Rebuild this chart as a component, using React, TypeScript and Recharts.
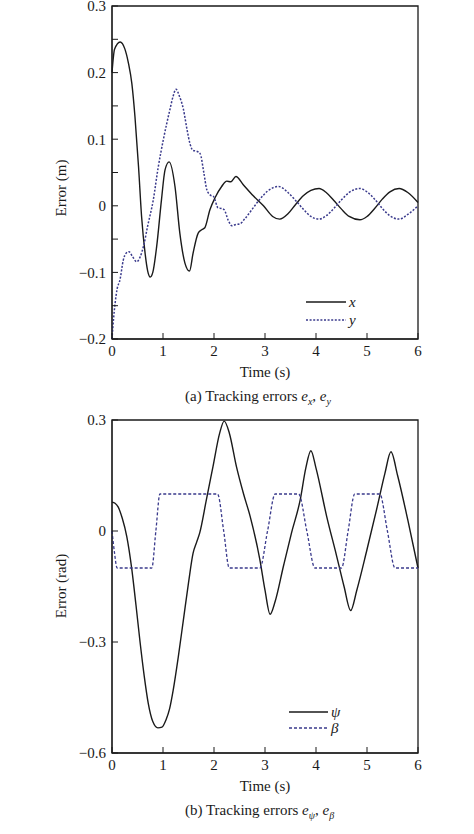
import React from 'react'
import { LineChart, Line, XAxis, YAxis, ReferenceArea, Legend } from 'recharts'

// (time s, error) pairs
const errX: [number, number][] = [
  [0, 0.2], [0.05, 0.235], [0.16, 0.246], [0.25, 0.236], [0.32, 0.215], [0.39, 0.183],
  [0.45, 0.134], [0.52, 0.059], [0.58, -0.016], [0.65, -0.072], [0.7, -0.098], [0.75, -0.107],
  [0.8, -0.1], [0.876, -0.061], [0.97, 0.009], [1.04, 0.054], [1.12, 0.066], [1.235, 0.029],
  [1.33, -0.041], [1.43, -0.086], [1.52, -0.098], [1.59, -0.071], [1.69, -0.041], [1.76, -0.036],
  [1.82, -0.033], [1.92, -0.006], [2.02, 0.012], [2.15, 0.029], [2.25, 0.037], [2.33, 0.036],
  [2.43, 0.044], [2.57, 0.032], [2.77, 0.015], [2.97, 0.0], [3.15, -0.016], [3.29, -0.02],
  [3.45, -0.012], [3.6, 0.002], [3.75, 0.015], [3.9, 0.023], [4.06, 0.026], [4.2, 0.02],
  [4.35, 0.008], [4.5, -0.005], [4.65, -0.016], [4.86, -0.021], [5.0, -0.016], [5.15, -0.004],
  [5.3, 0.01], [5.45, 0.021], [5.63, 0.026], [5.8, 0.02], [6.0, 0.005],
]

const errY: [number, number][] = [
  [0, -0.2], [0.03, -0.17], [0.06, -0.147], [0.1, -0.125], [0.157, -0.111], [0.22, -0.082],
  [0.28, -0.071], [0.333, -0.069], [0.4, -0.076], [0.484, -0.084], [0.55, -0.077], [0.62, -0.06],
  [0.7, -0.03], [0.81, 0.009], [0.9, 0.055], [1.006, 0.099], [1.137, 0.145], [1.2, 0.165],
  [1.255, 0.175], [1.32, 0.165], [1.4, 0.145], [1.47, 0.115], [1.53, 0.093], [1.59, 0.083],
  [1.66, 0.082], [1.73, 0.078], [1.8, 0.05], [1.86, 0.024], [1.93, 0.016], [1.99, 0.014],
  [2.08, -0.003], [2.15, -0.004], [2.2, -0.006], [2.28, -0.022], [2.35, -0.03], [2.43, -0.028],
  [2.51, -0.027], [2.6, -0.02], [2.75, -0.005], [2.9, 0.01], [3.05, 0.022], [3.27, 0.029],
  [3.45, 0.02], [3.6, 0.008], [3.75, -0.005], [3.9, -0.016], [4.06, -0.02], [4.2, -0.015],
  [4.35, -0.004], [4.5, 0.009], [4.65, 0.02], [4.86, 0.026], [5.0, 0.021], [5.15, 0.01],
  [5.3, -0.004], [5.45, -0.015], [5.63, -0.02], [5.8, -0.013], [6.0, 0.0],
]

const errPsi: [number, number][] = [
  [0, 0.078], [0.06, 0.075], [0.12, 0.065], [0.2, 0.035], [0.29, -0.015], [0.39, -0.105],
  [0.47, -0.2], [0.55, -0.3], [0.63, -0.39], [0.71, -0.465], [0.8, -0.515], [0.9, -0.532],
  [0.98, -0.53], [1.06, -0.51], [1.13, -0.48], [1.2, -0.43], [1.3, -0.34], [1.4, -0.24],
  [1.5, -0.14], [1.59, -0.06], [1.66, -0.03], [1.72, -0.005], [1.85, 0.084], [1.98, 0.174],
  [2.11, 0.264], [2.2, 0.297], [2.3, 0.265], [2.44, 0.174], [2.58, 0.1], [2.71, 0.039],
  [2.9, -0.078], [3.0, -0.16], [3.1, -0.225], [3.2, -0.19], [3.36, -0.096], [3.52, -0.005],
  [3.69, 0.084], [3.8, 0.17], [3.9, 0.217], [4.0, 0.17], [4.21, 0.039], [4.4, -0.065],
  [4.55, -0.15], [4.68, -0.215], [4.8, -0.16], [5.0, -0.05], [5.2, 0.065], [5.35, 0.155],
  [5.47, 0.214], [5.6, 0.15], [5.8, 0.03], [6.0, -0.1],
]

const errBeta: [number, number][] = [
  [0, 0], [0.05, -0.06], [0.1, -0.1], [0.78, -0.1], [0.86, 0], [0.94, 0.1],
  [2.07, 0.1], [2.19, 0], [2.3, -0.1], [2.9, -0.1], [3.05, 0], [3.2, 0.1],
  [3.66, 0.1], [3.82, 0], [3.98, -0.1], [4.5, -0.1], [4.63, 0], [4.76, 0.1],
  [5.25, 0.1], [5.4, 0], [5.55, -0.1], [6.0, -0.1],
]

const timeTicks = [0, 1, 2, 3, 4, 5, 6]
const ticksA = [-0.2, -0.15, -0.1, -0.05, 0, 0.05, 0.1, 0.15, 0.2, 0.25, 0.3]
const ticksB = [-0.6, -0.3, 0, 0.3]
const legendOrder = ['x', 'y', 'ψ', 'β']

const toRows = (pts: [number, number][]) => pts.map(([t, v]) => ({ t, v }))

const serif = '"Liberation Serif", "DejaVu Serif", serif'
const ink = '#1a1a1a'
const blue = '#3a3a8c'

const fmt = (v: number) => {
  if (Math.abs(v) < 1e-9) return '0'
  const s = Math.abs(v).toFixed(1)
  return v < 0 ? '\u2212' + s : s
}
const fmtA = (v: number) => (Math.round(Math.abs(v) * 100) % 10 === 0 ? fmt(v) : '')

const tickStyle = { fontFamily: serif, fontSize: 15, fill: ink }

const dashes: Record<string, string> = { x: '', y: '2 1.6', ψ: '', β: '3 2' }

function makeLegend(rowH: number, lineW: number) {
  return (props: any) => {
    const items = [...(props.payload || [])].sort(
      (a: any, b: any) => legendOrder.indexOf(a.value) - legendOrder.indexOf(b.value)
    )
    return (
      <div style={{ fontFamily: serif, fontSize: 15, fontStyle: 'italic', color: ink }}>
        {items.map((e: any) => (
          <div key={e.value} style={{ height: rowH, display: 'flex', alignItems: 'center' }}>
            <svg width={lineW} height={4} style={{ marginRight: 3 }}>
              <line x1={0} y1={2} x2={lineW} y2={2} stroke={e.color} strokeWidth={1.5}
                strokeDasharray={dashes[e.value] || undefined} />
            </svg>
            <span>{e.value}</span>
          </div>
        ))}
      </div>
    )
  }
}

function Frame({ domainY }: { domainY: [number, number] }) {
  return (
    <ReferenceArea x1={0} x2={6} y1={domainY[0]} y2={domainY[1]} fill="none" stroke={ink} strokeWidth={1.3} />
  )
}

export default function App() {
  const text: React.CSSProperties = { position: 'absolute', fontFamily: serif, fontSize: 15, color: ink, whiteSpace: 'nowrap', lineHeight: '15px' }
  const ylab: React.CSSProperties = { ...text, transform: 'translate(-50%, -50%) rotate(-90deg)' }
  return (
    <div style={{ position: 'absolute', left: 0, top: 0, width: 474, height: 834, background: '#fff' }}>
      <div style={{ position: 'absolute', left: 0, top: 0 }}>
        <LineChart width={474} height={400} margin={{ top: 6, right: 56, bottom: 31, left: 62 }}>
          <XAxis dataKey="t" type="number" domain={[0, 6]} ticks={timeTicks} interval={0}
            tick={tickStyle} tickSize={-6} tickMargin={12} stroke={ink} height={30} />
          <YAxis type="number" domain={[-0.2, 0.3]} ticks={ticksA} interval={0} tickFormatter={fmtA}
            tick={tickStyle} tickSize={-6} tickMargin={12} stroke={ink} width={50} />
          {Frame({ domainY: [-0.2, 0.3] })}
          <Line data={toRows(errX)} dataKey="v" name="x" type="monotone" stroke={ink} strokeWidth={1.4}
            dot={false} isAnimationActive={false} />
          <Line data={toRows(errY)} dataKey="v" name="y" type="monotone" stroke={blue} strokeWidth={1.5}
            strokeDasharray="2 1.6" dot={false} isAnimationActive={false} />
          <Legend layout="vertical" align="center" verticalAlign="middle" content={makeLegend(18, 40)}
            wrapperStyle={{ left: 306, top: 293, width: 'auto', height: 'auto' }} />
        </LineChart>
      </div>
      <div style={{ position: 'absolute', left: 0, top: 400 }}>
        <LineChart width={474} height={400} margin={{ top: 20, right: 56, bottom: 17, left: 62 }}>
          <XAxis dataKey="t" type="number" domain={[0, 6]} ticks={timeTicks} interval={0}
            tick={tickStyle} tickSize={-6} tickMargin={12} stroke={ink} height={30} />
          <YAxis type="number" domain={[-0.6, 0.3]} ticks={ticksB} interval={0} tickFormatter={fmt}
            tick={tickStyle} tickSize={-6} tickMargin={12} stroke={ink} width={50} />
          {Frame({ domainY: [-0.6, 0.3] })}
          <Line data={toRows(errPsi)} dataKey="v" name="ψ" type="monotone" stroke={ink} strokeWidth={1.4}
            dot={false} isAnimationActive={false} />
          <Line data={toRows(errBeta)} dataKey="v" name="β" type="monotone" stroke={blue} strokeWidth={1.3}
            strokeDasharray="3 2" dot={false} isAnimationActive={false} />
          <Legend layout="vertical" align="center" verticalAlign="middle" content={makeLegend(16, 39)}
            wrapperStyle={{ left: 289, top: 304, width: 'auto', height: 'auto' }} />
        </LineChart>
      </div>

      <div style={{ ...ylab, left: 61, top: 188 }}>Error (m)</div>
      <div style={{ ...ylab, left: 61, top: 586 }}>Error (rad)</div>

      <div style={{ ...text, left: 265, top: 365, transform: 'translateX(-50%)' }}>Time (s)</div>
      <div style={{ ...text, left: 185, top: 389 }}>
        (a) Tracking errors <i>e</i><sub style={{ fontSize: 10, fontStyle: 'italic' }}>x</sub>, <i>e</i>
        <sub style={{ fontSize: 10, fontStyle: 'italic' }}>y</sub>
      </div>

      <div style={{ ...text, left: 265, top: 779, transform: 'translateX(-50%)' }}>Time (s)</div>
      <div style={{ ...text, left: 185, top: 803 }}>
        (b) Tracking errors <i>e</i><sub style={{ fontSize: 10, fontStyle: 'italic' }}>ψ</sub>, <i>e</i>
        <sub style={{ fontSize: 10, fontStyle: 'italic' }}>β</sub>
      </div>
    </div>
  )
}
